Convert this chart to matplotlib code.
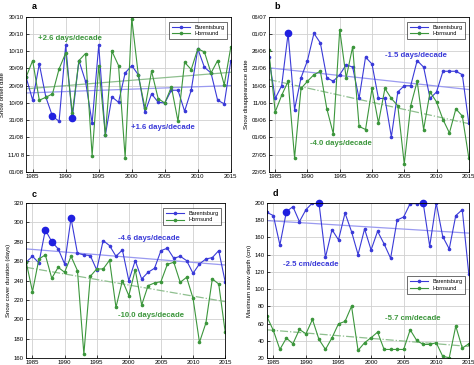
import numpy as np
import matplotlib
matplotlib.use('Agg')
import matplotlib.pyplot as plt

plt.rcParams['font.family'] = ['Liberation Sans', 'DejaVu Sans']

years = list(range(1984, 2016))

# a: snow onset date, days after 01/08
onset_bar = [55, 41.6, 62.7, 43.3, 32.3, 29.4, 73.5, 31.3, 64.6, 52.6, 28.4, 73.5, 21.3, 43.5, 40.4, 57.4,
             61.7, 56.3, 34.6, 45.3, 40.4, 40, 47.4, 47.4, 35.2, 47.4, 71.4, 60.7, 57.4, 41.6, 39.5, 64.6]
onset_hor = [55, 64.6, 41.6, 43.3, 45.3, 59.8, 69, 34, 64.6, 68.7, 9.5, 61.7, 21.3, 70, 61.7, 8.3,
             89, 56, 37, 58.4, 42.5, 40, 49.3, 29.4, 63.6, 59.4, 71.4, 69.6, 57.4, 64.6, 50.5, 72.5]
onset_trend_bar = [45.8, 50.1]
onset_trend_hor = [48.2, 57.8]
onset_big = [1988, 1991]
onset_labels = ['01/08', '11/0 8', '21/08', '31/08', '10/09', '20/09', '30/09', '10/10', '20/10', '30/10']

# b: snow disappearance date, days after 22/05
disap_bar = [33.3, 21.3, 25, 40.2, 18.1, 27.3, 32.3, 40.2, 37.4, 27.3, 26.3, 28.2, 31.1, 30.4, 21.3, 33.3,
             31.3, 21.3, 21.3, 10.2, 23.2, 25, 25, 32.3, 30.4, 21.3, 23.2, 29.2, 29.2, 29.2, 28.2, 14.2]
disap_hor = [35.3, 17.4, 22.2, 26.3, 4.1, 24.2, 26.3, 28.2, 29.2, 18.3, 11.1, 41.3, 27.3, 36.3, 13.2, 12.3,
             24.2, 14.2, 24.2, 21.3, 19.2, 2.3, 19.2, 26.3, 12.3, 23.2, 20.3, 15.2, 11.3, 18.3, 16.2, 4.1]
disap_trend_bar = [30.2, 23.9]
disap_trend_hor = [26.8, 14.0]
disap_big = [1987]
disap_labels = ['22/05', '27/05', '01/06', '06/06', '11/06', '16/06', '21/06', '26/06', '01/07', '06/07']

# c: snow cover duration (days)
dur_bar = [258.8, 265, 258.1, 292.2, 280.1, 272.6, 257.1, 304.2, 268.1, 266.4, 265.7, 250.9, 281.2, 276, 265, 271.5,
           239.9, 260.5, 241.6, 248.5, 252.6, 270.8, 273.3, 262.9, 265, 260.5, 247.4, 257.1, 262.2, 263.6, 270.8, 238.8]
dur_hor = [259.5, 228.5, 262.2, 266.4, 242.3, 253.6, 248.5, 265, 250.2, 164.1, 244.3, 251.9, 251.9, 260.9, 212.3, 239.9,
           224.4, 251.2, 214.7, 234.7, 237.5, 238.8, 256.7, 258.8, 238.1, 243.3, 221.6, 176.2, 196.1, 241.6, 236.4, 187.2]
dur_trend_bar = [272.6, 256.0]
dur_trend_hor = [253.6, 218.2]
dur_big = [1987, 1988, 1991]

# d: maximum snow depth (cm)
depth_bar = [189.1, 185.3, 151.3, 189.9, 195.7, 178.3, 192.2, 200, 200, 137, 169, 157.1, 188.3, 166.7, 140.1, 169.8,
             145.5, 167.1, 152.4, 135.8, 180.2, 183.7, 199.2, 199.2, 200, 149.7, 200, 160.9, 146.6, 185.3, 192.2, 117.7]
depth_hor = [68.3, 52, 30, 43.2, 36.6, 53.2, 48.2, 64.8, 41.6, 30, 43.6, 59.8, 62.5, 80.2, 28.9, 37.8,
             43.6, 50.1, 30, 30, 30, 30, 52.8, 40.5, 35.8, 35.8, 37.8, 22, 20.4, 57.1, 31.6, 36.6]
depth_trend_bar = [179.5, 165.0]
depth_trend_hor = [52.8, 33.5]
depth_big = [1987, 1992, 2008]

BLUE = '#3a3ad8'
GREEN = '#3c963c'
BLUE_T = '#9a9af0'
GREEN_T = '#8fbf8f'

fig = plt.figure(figsize=(4.74, 3.65), dpi=100)


def panel(rect, bar, hor, tr_bar, tr_hor, big, hor_style, ylim, yticks, ylabels, ylabel,
          letter, letter_y, texts, leg_anchor):
    ax = fig.add_axes(rect)
    ax.grid(True, color='#d0d0d0', lw=0.6)
    ax.set_axisbelow(True)
    ax.plot([years[0], years[-1]], tr_bar, color=BLUE_T, lw=0.9)
    ax.plot([years[0], years[-1]], tr_hor, color=GREEN_T, lw=0.9, ls=hor_style)
    ax.plot(years, bar, color=BLUE, lw=0.8, marker='o', ms=1.6, label='Barentsburg')
    ax.plot(years, hor, color=GREEN, lw=0.8, marker='o', ms=1.6, label='Hornsund')
    by = [bar[years.index(y)] for y in big]
    ax.plot(big, by, 'o', color='#2020e0', ms=4.5, clip_on=False)
    ax.set_xlim(1984, 2015)
    ax.set_ylim(*ylim)
    ax.set_xticks([1985, 1990, 1995, 2000, 2005, 2010, 2015])
    ax.set_yticks(yticks)
    if ylabels is not None:
        ax.set_yticklabels(ylabels)
    ax.tick_params(labelsize=4.3, direction='in', length=2, width=0.5, pad=1.5)
    for s in ax.spines.values():
        s.set_linewidth(0.6)
    ax.set_ylabel(ylabel, fontsize=4.3, labelpad=2)
    ax.text(0.03, letter_y, letter, transform=ax.transAxes, fontsize=6.5, fontweight='bold', va='center')
    for tx, ty, s, c in texts:
        ax.text(tx, ty, s, transform=ax.transAxes, color=c, fontsize=5.6, fontweight='bold', va='center')
    leg = ax.legend(loc='upper right', bbox_to_anchor=leg_anchor, fontsize=4, frameon=True, fancybox=False,
                    edgecolor='black', handlelength=3.2, borderpad=0.5, labelspacing=0.3)
    leg.get_frame().set_linewidth(0.5)
    return ax


panel([0.055, 0.529, 0.432, 0.425], onset_bar, onset_hor, onset_trend_bar, onset_trend_hor, onset_big, '-',
      (0, 90), list(range(0, 91, 10)), onset_labels, 'Snow onset date', 'a', 1.065,
      [(0.06, 0.858, '+2.6 days/decade', GREEN), (0.51, 0.284, '+1.6 days/decade', BLUE)], (0.995, 0.985))

panel([0.567, 0.529, 0.422, 0.425], disap_bar, disap_hor, disap_trend_bar, disap_trend_hor, disap_big, '-.',
      (0, 45), list(range(0, 46, 5)), disap_labels, 'Snow disappearance date', 'b', 1.065,
      [(0.58, 0.748, '-1.5 days/decade', BLUE), (0.205, 0.18, '-4.0 days/decade', GREEN)], (0.995, 0.985))

panel([0.055, 0.019, 0.42, 0.425], dur_bar, dur_hor, dur_trend_bar, dur_trend_hor, dur_big, '-.',
      (160, 320), list(range(160, 321, 20)), None, 'Snow cover duration (days)', 'c', 1.055,
      [(0.462, 0.768, '-4.6 days/decade', BLUE), (0.462, 0.277, '-10.0 days/decade', GREEN)], (0.995, 0.985))

panel([0.563, 0.019, 0.426, 0.425], depth_bar, depth_hor, depth_trend_bar, depth_trend_hor, depth_big, '-.',
      (20, 200), list(range(20, 201, 20)), None, 'Maximum snow depth (cm)', 'd', 1.06,
      [(0.08, 0.6, '-2.5 cm/decade', BLUE), (0.584, 0.258, '-5.7 cm/decade', GREEN)], (0.995, 0.545))

fig.savefig('out.png', dpi=100)
